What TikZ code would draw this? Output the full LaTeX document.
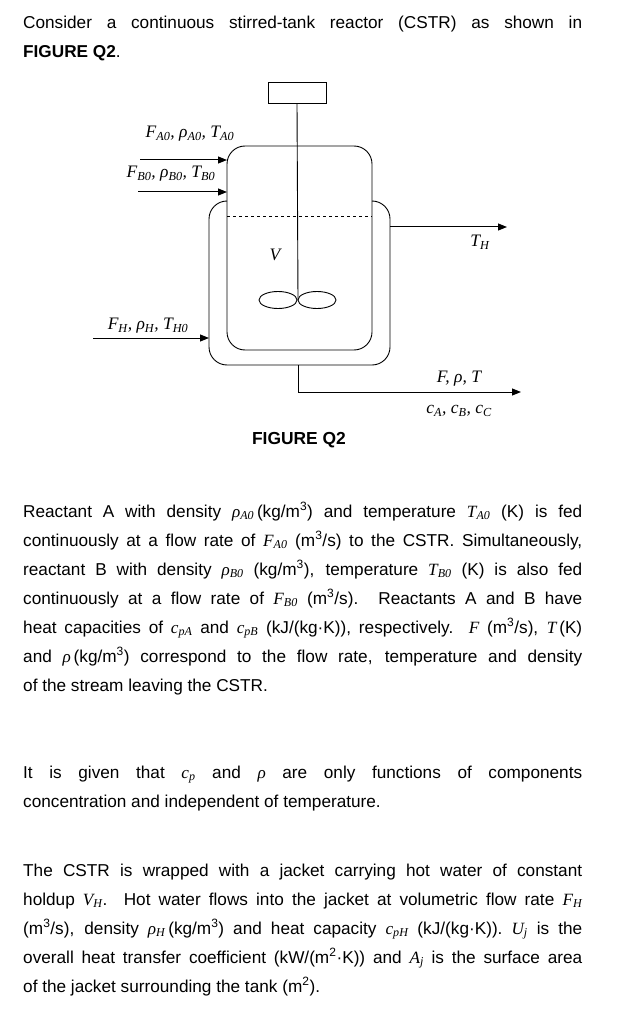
\documentclass[tikz,border=0pt]{standalone}
\usepackage{fontspec}
\setmainfont{Liberation Sans}
\newfontfamily\mfont{Liberation Serif}
\newcommand\mv[1]{{\mfont\itshape #1}}
\newcommand\mvs[2]{{\mfont\itshape #1\textsubscript{#2}}}
\usetikzlibrary{arrows.meta}
\hyphenpenalty=10000 \exhyphenpenalty=10000
\begin{document}
\begin{tikzpicture}[x=1pt,y=-1pt,
  line/.style={line width=0.9pt},
  flow/.style={line width=1pt,-{Triangle[length=9pt,width=7pt]}},
  lbl/.style={font=\fontsize{17.5}{19}\selectfont\mfont\itshape, inner sep=0},
  para/.style={anchor=base west, text width=559pt, align=justify, inner sep=0, font=\fontsize{17.2}{29}\selectfont}]
\useasboundingbox (0,0) rectangle (616,1024);
% motor and shaft
\node[draw, line, minimum width=58pt, minimum height=21pt, inner sep=0] (motor) at (297,92.5) {};
\coordinate (hub) at (298,300);
\draw[line] (motor.south) -- (hub);
\draw[line] (278,300) ellipse (19pt and 8.5pt);
\draw[line] (317,300) ellipse (19pt and 8.5pt);
% inner vessel
\draw[line, rounded corners=18pt] (227,146) rectangle (372,350);
% jacket
\draw[line, rounded corners=18pt] (227,201) -- (209,201) -- (209,365) -- (390,365) -- (390,201) -- (372,201);
\draw[line, dashed] (227,216) -- (372,216);
\node[lbl] (V) at (275,255) {V};
% feed arrows
\coordinate (a0) at (140,160); \coordinate (a1) at (227,160);
\draw[flow] (a0) -- (a1);
\node[lbl] (la) at (190,134) {F\textsubscript{A0}, ρ\textsubscript{A0}, T\textsubscript{A0}};
\coordinate (b0) at (138,192); \coordinate (b1) at (227,192);
\draw[flow] (b0) -- (b1);
\node[lbl] (lb) at (171,174) {F\textsubscript{B0}, ρ\textsubscript{B0}, T\textsubscript{B0}};
\coordinate (h0) at (93,338); \coordinate (h1) at (209,338);
\draw[flow] (h0) -- (h1);
\node[lbl] (lh) at (148,326) {F\textsubscript{H}, ρ\textsubscript{H}, T\textsubscript{H0}};
\coordinate (t0) at (390,227); \coordinate (t1) at (507,227);
\draw[flow] (t0) -- (t1);
\node[lbl] (lt) at (480,242) {T\textsubscript{H}};
% outlet
\coordinate (o0) at (298,365); \coordinate (o1) at (521,392);
\draw[flow] (o0) |- (o1);
\node[lbl] (lo) at (459,379) {F, ρ, T};
\node[lbl] (lc) at (459,411) {c\textsubscript{A}, c\textsubscript{B}, c\textsubscript{C}};
\node[font=\fontsize{17.4}{19}\selectfont\bfseries, inner sep=0] (fig) at (299,440) {FIGURE Q2};
% text
\node[para] (p0) at (23,29) {Consider a continuous stirred-tank reactor (CSTR) as shown in\linebreak \textbf{FIGURE Q2}.};
\node[para] (p1) at (23,517) {Reactant A with density \mvs{ρ}{A0}\,(kg/m\textsuperscript{3}) and temperature \mvs{T}{A0} (K) is fed\linebreak continuously at a flow rate of \mvs{F}{A0} (m\textsuperscript{3}/s) to the CSTR. Simultaneously,\linebreak reactant B with density \mvs{ρ}{B0} (kg/m\textsuperscript{3}), temperature \mvs{T}{B0} (K) is also fed\linebreak continuously at a flow rate of \mvs{F}{B0} (m\textsuperscript{3}/s). Reactants A and B have\linebreak heat capacities of \mvs{c}{pA} and \mvs{c}{pB} (kJ/(kg·K)), respectively. \mv{F} (m\textsuperscript{3}/s), \mv{T}\,(K)\linebreak and \mv{ρ}\,(kg/m\textsuperscript{3}) correspond to the flow rate, temperature and density\linebreak of the stream leaving the CSTR.};
\node[para] (p2) at (23,778) {It is given that \mvs{c}{p} and \mv{ρ} are only functions of components\linebreak concentration and independent of temperature.};
\node[para] (p3) at (23,876) {The CSTR is wrapped with a jacket carrying hot water of constant\linebreak holdup \mvs{V}{H}. Hot water flows into the jacket at volumetric flow rate \mvs{F}{H}\linebreak (m\textsuperscript{3}/s), density \mvs{ρ}{H}\,(kg/m\textsuperscript{3}) and heat capacity \mvs{c}{pH} (kJ/(kg·K)). \mvs{U}{j} is the\linebreak overall heat transfer coefficient (kW/(m\textsuperscript{2}·K)) and \mvs{A}{j} is the surface area\linebreak of the jacket surrounding the tank (m\textsuperscript{2}).};
\end{tikzpicture}
\end{document}
